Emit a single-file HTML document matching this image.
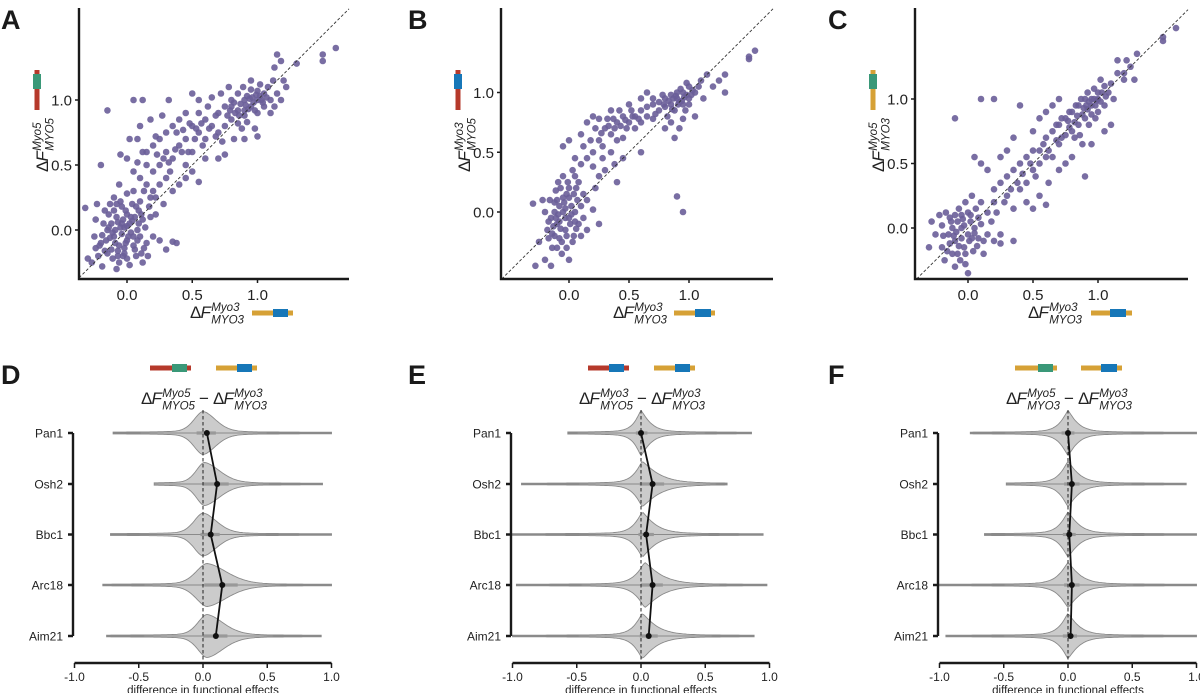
<!DOCTYPE html>
<html><head><meta charset="utf-8"><style>
html,body{margin:0;padding:0;background:#fff}
svg{display:block;font-family:"Liberation Sans",Arial,sans-serif}
</style></head><body>
<svg id="fig" width="1200" height="693" viewBox="0 0 1200 693" xmlns="http://www.w3.org/2000/svg"></svg>
<script>
// ---------- scatter data ----------
const scatterA = [[-0.2,-0.1],[-0.15,0.0],[-0.1,-0.05],[-0.05,0.02],[0,-0.08],[0.02,0.05],[-0.08,0.1],[-0.12,-0.15],[-0.03,-0.2],[0.05,-0.12],[0.08,0.0],[-0.18,0.05],[-0.22,-0.2],[-0.06,-0.25],[0.1,-0.05],[0.12,0.08],[-0.01,0.15],[-0.14,0.12],[0.04,0.2],[-0.09,-0.1],[-0.04,-0.03],[0.0,0.03],[-0.07,0.06],[-0.11,-0.02],[0.03,-0.02],[-0.16,-0.08],[-0.02,-0.14],[0.06,0.1],[-0.13,0.2],[0.09,0.15],[-0.25,-0.05],[-0.27,-0.25],[0.15,-0.1],[0.14,0.02],[-0.05,0.22],[0.0,0.28],[-0.1,0.25],[0.07,-0.2],[0.11,-0.18],[-0.19,-0.28],[-0.08,-0.3],[0.02,-0.27],[-0.3,-0.22],[-0.24,0.08],[-0.32,0.17],[0.18,0.1],[0.2,-0.05],[0.17,0.18],[0.05,0.3],[-0.06,0.35],[0.12,-0.25],[0.16,-0.2],[-0.15,-0.18],[-0.21,-0.12],[0.01,-0.05],[-0.03,0.08],[0.08,-0.08],[-0.09,0.0],[-0.12,0.05],[0.04,0.07],[-0.17,0.15],[-0.23,0.2],[0.1,0.22],[0.13,0.3],[0.22,0.25],[0.25,-0.08],[0.3,-0.15],[0.35,-0.09],[0.38,-0.1],[0.22,0.12],[-0.02,-0.18],[0.06,-0.15],[-0.07,-0.2],[0.0,0.12],[-0.04,0.18],
[-0.06,-0.12],[-0.13,-0.06],[-0.01,-0.1],[0.05,-0.05],[-0.1,0.15],[-0.19,-0.04],[-0.07,-0.16],[0.03,0.1],[-0.04,0.05],[0.09,0.05],[-0.17,-0.16],[-0.11,-0.22],[0.0,-0.22],[0.07,0.18],[-0.02,0.02],[-0.14,0.02],[-0.08,0.2],[0.13,-0.14],[-0.24,-0.14],[0.11,0.12],
[0.1,0.4],[0.15,0.35],[0.2,0.45],[0.25,0.5],[0.05,0.45],[0.0,0.55],[-0.05,0.58],[-0.2,0.5],[0.02,0.7],[0.08,0.7],[0.1,0.8],[0.15,0.6],[0.2,0.65],[0.25,0.7],[0.3,0.6],[0.3,0.75],[0.35,0.8],[0.35,0.55],[0.4,0.65],[0.4,0.85],[0.45,0.7],[0.45,0.5],[0.5,0.8],[0.5,0.6],[0.55,0.75],[0.55,0.9],[0.6,0.7],[0.6,0.85],[0.25,0.35],[0.3,0.4],[0.35,0.3],[0.4,0.35],[0.45,0.4],[0.5,0.45],[0.55,0.37],[0.2,0.3],[0.15,0.5],[0.28,0.55],[0.33,0.45],[0.38,0.75],[0.42,0.6],[0.48,0.82],[0.52,0.7],[0.58,0.65],[0.18,0.85],[0.27,0.88],[0.32,1.0],[0.05,1.0],[0.12,1.0],[-0.15,0.92],[0.22,0.72],[0.12,0.6],[0.08,0.52],[0.18,0.25],[0.28,0.2],[0.45,0.9],[0.62,0.95],[0.65,0.8],[0.6,0.55],[0.7,0.55],[0.75,0.58],[0.68,0.72],
[0.43,0.77],[0.53,0.78],[0.47,0.6],[0.57,0.82],[0.37,0.62],[0.63,0.78],[0.23,0.58],[0.32,0.52],
[0.7,0.9],[0.75,0.95],[0.8,0.85],[0.85,0.92],[0.9,1.0],[0.95,0.95],[1.0,1.0],[0.9,0.88],[0.85,1.05],[0.95,1.08],[1.0,0.9],[1.05,1.05],[1.1,1.0],[0.8,1.0],[0.75,0.8],[0.7,0.75],[0.88,0.78],[0.92,0.83],[0.98,0.78],[1.02,1.12],[1.08,1.1],[1.12,1.15],[1.15,1.05],[0.65,1.02],[0.72,1.05],[0.78,1.1],[0.82,0.7],[0.9,0.7],[1.0,0.72],[0.95,1.15],[1.05,0.95],[1.1,0.9],[0.97,0.98],[0.93,0.93],[0.87,0.97],[0.83,0.9],[0.77,0.88],[1.03,1.0],[1.07,1.02],[0.99,1.04],[0.89,1.1],[1.2,1.15],[1.22,1.1],[1.13,1.25],[1.18,1.3],[1.15,1.35],[1.3,1.28],[1.6,1.4],[1.5,1.35],[1.5,1.3],[0.5,1.05],[0.55,1.0],[0.68,0.88],[0.73,0.68],[1.13,0.95],[1.18,1.0],[0.85,0.82],[0.92,1.03],[1.0,1.07],[0.8,0.95],
[0.94,1.01],[0.98,0.92],[1.02,1.03],[0.91,0.96],[0.86,0.88],[0.96,1.02],[1.04,0.98],[0.9,0.92],[0.82,0.98],[0.79,0.92]];
const scatterB = [[-0.1,-0.1],[-0.05,0],[0,-0.05],[-0.08,0.05],[-0.12,-0.2],[-0.03,-0.15],[0.02,0.05],[-0.06,-0.25],[-0.15,-0.05],[-0.1,0.1],[0.0,0.12],[0.05,0],[-0.02,-0.3],[-0.14,-0.3],[-0.18,-0.15],[-0.2,0.0],[0.04,-0.2],[0.08,-0.1],[-0.07,0.2],[-0.01,0.25],[0.06,0.2],[-0.11,0.18],[0.1,0.05],[0.12,-0.05],[-0.16,0.1],[-0.04,0.08],[-0.09,-0.02],[0.01,-0.1],[-0.13,-0.12],[0.03,-0.25],[-0.06,-0.35],[-0.2,-0.4],[-0.28,-0.45],[-0.15,-0.45],[0.0,-0.4],[-0.25,-0.25],[-0.3,0.07],[-0.22,0.1],[0.15,-0.15],[0.2,0.02],[0.25,-0.1],[0.15,0.1],[-0.05,0.3],[0.03,0.35],[-0.02,0.15],[0.07,0.1],[-0.08,-0.08],[-0.03,-0.05],[0.05,-0.08],[-0.12,0.0],[0.1,-0.2],[0.12,0.15],[-0.17,-0.22],[0.08,0.25],[-0.1,-0.3],[0.05,0.3],
[-0.07,-0.14],[-0.11,-0.05],[-0.02,-0.2],[0.02,-0.02],[-0.05,0.12],[-0.14,-0.18],[-0.08,-0.22],[0.04,0.15],[-0.03,0.03],[-0.12,0.08],[0.0,0.2],[-0.09,0.25],[0.06,-0.14],[-0.17,-0.08],
[0.1,0.4],[0.05,0.45],[0.15,0.45],[0.2,0.5],[0.12,0.55],[0.18,0.6],[0.25,0.6],[0.3,0.7],[0.22,0.7],[0.28,0.55],[0.35,0.65],[0.32,0.78],[0.4,0.75],[0.45,0.8],[0.38,0.7],[0.5,0.75],[0.55,0.8],[0.48,0.7],[0.6,0.85],[0.42,0.85],[0.35,0.5],[0.3,0.35],[0.25,0.3],[0.2,0.38],[0.28,0.45],[-0.05,0.55],[0.0,0.6],[0.1,0.65],[0.15,0.75],[0.2,0.8],[0.55,0.7],[0.6,0.75],[0.65,0.8],[0.5,0.9],[0.45,0.62],[0.52,0.85],[0.7,0.78],[0.4,0.6],[0.35,0.85],[0.25,0.78],[0.22,0.2],[0.4,0.25],[0.45,0.45],[0.38,0.4],[0.6,0.5],
[0.33,0.72],[0.43,0.72],[0.47,0.77],[0.53,0.8],[0.58,0.78],[0.27,0.66],[0.37,0.78],
[0.7,0.9],[0.75,0.85],[0.8,0.95],[0.85,0.9],[0.9,0.95],[0.95,1.0],[1.0,1.05],[0.9,1.0],[0.85,0.98],[0.8,0.88],[0.75,0.92],[0.72,0.82],[0.95,0.9],[1.0,0.95],[1.05,1.0],[0.98,1.08],[0.88,0.85],[0.82,0.8],[0.92,0.92],[0.96,0.96],[1.02,0.98],[1.08,1.05],[1.1,1.1],[1.15,1.15],[0.65,0.88],[0.7,0.95],[0.78,0.98],[0.85,0.75],[0.92,0.7],[0.95,0.78],[0.8,0.7],[0.88,0.62],[0.6,0.95],[0.65,1.0],[1.12,0.95],[1.25,1.1],[1.3,1.15],[1.2,1.05],[1.3,1.0],[1.5,1.28],[1.5,1.3],[1.55,1.35],[0.9,0.13],[0.95,0.0],[1.05,0.8],[0.97,0.85],[1.0,0.9],[0.83,0.93],[0.93,1.03],[0.87,0.95],
[0.91,0.9],[0.94,0.93],[0.98,0.98],[0.86,0.86],[0.79,0.9],[1.03,1.02],[0.89,0.97]];
const scatterC = [[-0.1,-0.1],[-0.05,0],[0,-0.05],[-0.08,0.05],[-0.12,-0.2],[-0.03,-0.15],[0.02,0.05],[-0.06,-0.25],[-0.15,-0.05],[-0.1,0.1],[0.0,0.12],[0.05,0],[-0.02,-0.28],[-0.2,-0.15],[-0.25,-0.05],[0.04,-0.18],[0.08,-0.08],[-0.07,0.15],[0.06,0.15],[-0.13,0.05],[0.1,0.03],[0.12,-0.1],[-0.17,0.12],[-0.04,0.07],[-0.09,-0.03],[0.01,-0.1],[-0.14,-0.12],[-0.3,-0.15],[-0.28,0.05],[-0.22,0.1],[0.15,-0.05],[0.18,0.05],[0.15,0.12],[-0.02,0.2],[0.03,0.25],[-0.1,-0.3],[0.0,-0.35],[-0.18,-0.25],[0.2,-0.1],[0.25,-0.05],[0.1,0.2],[-0.05,-0.08],[0.05,-0.04],[-0.12,0.0],[0.08,0.08],[-0.2,0.02],[0.12,-0.2],[0.2,0.2],
[-0.07,-0.14],[-0.11,-0.06],[-0.02,-0.2],[0.03,-0.08],[-0.05,0.1],[-0.16,-0.18],[-0.08,-0.2],[0.02,0.1],[-0.03,0.02],[-0.14,0.08],[0.07,-0.14],[-0.19,-0.06],
[0.2,0.3],[0.22,0.12],[0.25,0.35],[0.28,0.2],[0.3,0.4],[0.3,0.25],[0.33,0.3],[0.35,0.45],[0.35,0.15],[0.38,0.35],[0.4,0.5],[0.4,0.3],[0.42,0.42],[0.45,0.55],[0.45,0.35],[0.48,0.5],[0.5,0.6],[0.5,0.45],[0.52,0.4],[0.55,0.6],[0.55,0.5],[0.58,0.65],[0.6,0.55],[0.6,0.7],[0.62,0.6],[0.65,0.75],[0.65,0.55],[0.68,0.68],[0.7,0.8],[0.7,0.65],[0.72,0.7],[0.75,0.85],[0.75,0.72],[0.78,0.78],[0.8,0.9],[0.8,0.75],[0.82,0.82],[0.85,0.95],[0.85,0.8],[0.88,0.88],[0.9,1.0],[0.9,0.85],[0.92,0.92],[0.95,1.0],[0.95,0.88],[0.98,0.95],[1.0,1.05],[1.0,0.9],[1.02,0.98],[1.05,1.1],[1.05,0.95],[1.08,1.05],[1.1,1.12],[1.12,1.0],[1.15,1.2],[0.25,0.55],[0.15,0.45],[0.1,0.5],[0.05,0.55],[0.3,0.6],[0.35,0.7],[0.5,0.75],[0.55,0.85],[0.6,0.9],[0.65,0.95],[0.7,1.0],[0.1,1.0],[0.2,1.0],[-0.1,0.85],[0.4,0.95],[0.45,0.2],[0.55,0.25],[0.62,0.35],[0.7,0.45],[0.75,0.5],[0.8,0.55],[0.88,0.65],[0.95,0.65],[0.9,0.4],[1.05,0.75],[1.1,0.8],[0.6,0.18],[0.5,0.15],[0.35,-0.1],[0.25,-0.12],[1.2,1.2],[1.22,1.3],[1.15,1.3],[1.3,1.35],[1.5,1.48],[1.5,1.45],[1.6,1.55],[1.2,1.15],[1.25,1.25],[1.28,1.15],[1.02,1.15],[0.97,1.08],[0.92,1.05],[0.87,1.0],[0.83,0.95],[0.78,0.9],[0.72,0.85],[0.68,0.8],[0.93,0.8],[0.98,0.85],[0.86,0.72],[0.82,0.7],[1.0,1.0],[0.95,0.95],[1.03,1.05],
[0.91,0.95],[0.97,1.0],[0.89,0.93],[0.84,0.87],[0.77,0.83],[1.06,1.02],[0.99,0.99],[0.93,0.98]];
const scatterTicks = [0.0, 0.5, 1.0];
const scatterTickLabels = ["0.0", "0.5", "1.0"];

// ---------- violin data ----------
const genes = ["Pan1", "Osh2", "Bbc1", "Arc18", "Aim21"];
const violinTicks = [-1.0, -0.5, 0.0, 0.5, 1.0];
const violinTickLabels = ["-1.0", "-0.5", "0.0", "0.5", "1.0"];
const meansD = [0.03, 0.11, 0.06, 0.15, 0.10];
const meansE = [0.0, 0.09, 0.04, 0.09, 0.06];
const meansF = [0.0, 0.03, 0.01, 0.03, 0.02];
const modesD = [0.0, 0.01, 0.0, 0.03, 0.03];
const modesE = [0.0, 0.01, 0.01, 0.03, 0.01];
const modesF = [0.0, 0.0, 0.0, 0.0, 0.0];
const spreadLD = [0.1, 0.09, 0.1, 0.12, 0.1];
const spreadRD = [0.14, 0.17, 0.15, 0.22, 0.18];
const spreadLE = [0.06, 0.07, 0.07, 0.08, 0.07];
const spreadRE = [0.08, 0.14, 0.11, 0.14, 0.12];
const spreadLF = [0.07, 0.07, 0.07, 0.08, 0.07];
const spreadRF = [0.08, 0.09, 0.09, 0.1, 0.09];
const minsD = [-0.7, -0.38, -0.72, -0.78, -0.75];
const maxsD = [1.0, 0.93, 1.0, 1.0, 0.92];
const minsE = [-0.57, -0.93, -1.0, -0.97, -1.0];
const maxsE = [0.86, 0.67, 0.95, 0.98, 0.88];
const minsF = [-0.76, -0.48, -0.65, -1.0, -0.95];
const maxsF = [1.0, 0.92, 1.0, 1.0, 1.0];
const q1D = [-0.05, 0.0, -0.02, 0.01, 0.0];
const q3D = [0.1, 0.2, 0.13, 0.27, 0.19];
const q1E = [-0.04, -0.01, -0.02, 0.0, -0.01];
const q3E = [0.05, 0.18, 0.1, 0.17, 0.13];
const q1F = [-0.05, -0.03, -0.04, -0.03, -0.04];
const q3F = [0.05, 0.09, 0.06, 0.09, 0.07];

const svg = document.getElementById('fig');
const NS = 'http://www.w3.org/2000/svg';
function mk(tag, attrs, parent) {
  const e = document.createElementNS(NS, tag);
  for (const k in attrs) e.setAttribute(k, attrs[k]);
  (parent || svg).appendChild(e);
  return e;
}
function txt(x, y, s, size, parent, extra) {
  const t = mk('text', Object.assign({x: x, y: y, 'font-size': size, fill: '#222'}, extra || {}), parent);
  t.textContent = s;
  return t;
}
function dfLabel(parent, x, y, sup, sub, size) {
  const g = mk('g', {}, parent);
  txt(x, y, 'Δ', size, g);
  txt(x + size * 0.62, y, 'F', size, g, {'font-style': 'italic'});
  txt(x + size * 1.25, y - size * 0.42, sup, size * 0.68, g, {'font-style': 'italic'});
  txt(x + size * 1.25, y + size * 0.32, sub, size * 0.68, g, {'font-style': 'italic'});
  return g;
}
const COL = {red: '#b5392b', green: '#3a9878', gold: '#d6a136', blue: '#1777b8'};
function hBar(parent, x0, x1, y, c1, b0, b1, c2) {
  mk('rect', {x: x0, y: y - 2.5, width: x1 - x0, height: 5, fill: COL[c1]}, parent);
  mk('rect', {x: b0, y: y - 4, width: b1 - b0, height: 8, fill: COL[c2]}, parent);
}
function vBar(parent, x, y0, y1, c1, b0, b1, c2) {
  mk('rect', {x: x - 2.5, y: y0, width: 5, height: y1 - y0, fill: COL[c1]}, parent);
  mk('rect', {x: x - 4, y: b0, width: 8, height: b1 - b0, fill: COL[c2]}, parent);
}
function letter(x, y, s) {
  const t = txt(x, y, s, 27, svg, {'font-weight': 'bold', fill: '#1a1a1a'});
  
  
}

// ---------- scatter panels ----------
const scatterPanels = [
  {id: 'a', pts: scatterA, x0: 127, sx: 130.5, y0: 230, sy: 130, L: 79, R: 349, T: 8, B: 279,
   ylab: ['Myo5', 'MYO5'], vbar: [37, 'red', 'green'], hbar: [252, 293, 273, 288], ylx: 43, xlx: 190},
  {id: 'b', pts: scatterB, x0: 569, sx: 120, y0: 212, sy: 119.5, L: 501, R: 773, T: 8, B: 279,
   ylab: ['Myo3', 'MYO5'], vbar: [458, 'red', 'blue'], hbar: [674, 715, 695, 711], ylx: 465, xlx: 613},
  {id: 'c', pts: scatterC, x0: 968, sx: 130, y0: 228, sy: 129, L: 915, R: 1188, T: 8, B: 279,
   ylab: ['Myo5', 'MYO3'], vbar: [873, 'gold', 'green'], hbar: [1091, 1132, 1110, 1126], ylx: 879, xlx: 1028}
];
scatterPanels.forEach(p => {
  const g = mk('g', {});
  
  
  const X = v => p.x0 + p.sx * v, Y = v => p.y0 - p.sy * v;
  const lo = Math.max((p.L - p.x0) / p.sx, (p.y0 - p.B) / p.sy);
  const hi = Math.min((p.R - p.x0) / p.sx, (p.y0 - p.T) / p.sy);
  const pg = mk('g', {}, g);
  
  
  p.pts.forEach(d => {
    const c = mk('circle', {cx: X(d[0]), cy: Y(d[1]), r: 3.3, fill: '#6a5e99', 'fill-opacity': 0.9}, pg);
    
    
  });
  const dl = mk('line', {x1: X(lo), y1: Y(lo), x2: X(hi), y2: Y(hi), stroke: '#333', 'stroke-width': 0.9, 'stroke-dasharray': '3,2'}, g);
  
  
  const ax = mk('path', {d: `M${p.L},${p.T} V${p.B} H${p.R}`, fill: 'none', stroke: '#1a1a1a', 'stroke-width': 2.4}, g);
  
  
  scatterTicks.forEach((v, i) => {
    mk('line', {x1: X(v), y1: p.B, x2: X(v), y2: p.B + 4, stroke: '#1a1a1a', 'stroke-width': 1.5}, g);
    const tx = txt(X(v), p.B + 21, scatterTickLabels[i], 15, g, {'text-anchor': 'middle'});
    
    
    mk('line', {x1: p.L - 4, y1: Y(v), x2: p.L, y2: Y(v), stroke: '#1a1a1a', 'stroke-width': 1.5}, g);
    const ty = txt(p.L - 7, Y(v) + 5.5, scatterTickLabels[i], 15, g, {'text-anchor': 'end'});
    
    
  });
  const xl = dfLabel(g, p.xlx, 318, 'Myo3', 'MYO3', 17);
  
  
  const ylg = mk('g', {transform: `translate(${p.ylx},0) rotate(-90)`}, g);
  const yl = dfLabel(ylg, -172, 5, p.ylab[0], p.ylab[1], 17);
  
  
  const ic1 = mk('g', {}, g);
  
  
  vBar(ic1, p.vbar[0], 70, 110, p.vbar[1], 74, 89, p.vbar[2]);
  const ic2 = mk('g', {}, g);
  
  
  hBar(ic2, p.hbar[0], p.hbar[1], 313, 'gold', p.hbar[2], p.hbar[3], 'blue');
});

// ---------- violin panels ----------
const rowsY = [433, 484, 534.5, 585, 636];
const violinPanels = [
  {id: 'd', x0: 203, means: meansD, modes: modesD, sL: spreadLD, sR: spreadRD, mins: minsD, maxs: maxsD, q1: q1D, q3: q3D, pw: 1.8, H: 19,
   sup: ['Myo5', 'Myo3'], sub: ['MYO5', 'MYO3'], bars: [[150, 191, 'red', 172, 187, 'green'], [216, 257, 'gold', 237, 252, 'blue']]},
  {id: 'e', x0: 641, means: meansE, modes: modesE, sL: spreadLE, sR: spreadRE, mins: minsE, maxs: maxsE, q1: q1E, q3: q3E, pw: 1.2, H: 20,
   sup: ['Myo3', 'Myo3'], sub: ['MYO5', 'MYO3'], bars: [[588, 629, 'red', 609, 624, 'blue'], [654, 695, 'gold', 675, 690, 'blue']]},
  {id: 'f', x0: 1068, means: meansF, modes: modesF, sL: spreadLF, sR: spreadRF, mins: minsF, maxs: maxsF, q1: q1F, q3: q3F, pw: 1.2, H: 20,
   sup: ['Myo5', 'Myo3'], sub: ['MYO3', 'MYO3'], bars: [[1015, 1057, 'gold', 1038, 1053, 'green'], [1081, 1122, 'gold', 1101, 1117, 'blue']]}
];
violinPanels.forEach(p => {
  const g = mk('g', {});
  
  
  const sx = 128.5;
  const X = v => p.x0 + sx * v;
  p.bars.forEach(b => {
    const ic = mk('g', {}, g);
    
    
    hBar(ic, b[0], b[1], 368, b[2], b[3], b[4], b[5]);
  });
  const tg = mk('g', {}, g);
  
  
  dfLabel(tg, X(0) - 62, 404, p.sup[0], p.sub[0], 17);
  txt(X(0) - 4, 404, '−', 17, tg);
  dfLabel(tg, X(0) + 10, 404, p.sup[1], p.sub[1], 17);
  genes.forEach((name, i) => {
    const y = rowsY[i];
    const vg = mk('g', {}, g);
    
    
    const top = [], bot = [];
    const n = 140;
    for (let k = 0; k <= n; k++) {
      const v = p.mins[i] + (p.maxs[i] - p.mins[i]) * k / n;
      const d = v - p.modes[i];
      const s = d < 0 ? p.sL[i] : p.sR[i];
      const h = p.H * Math.exp(-Math.pow(Math.abs(d) / s, p.pw)) + 0.7 + 1.8 * Math.exp(-Math.abs(d) / 0.3);
      top.push(`${X(v).toFixed(1)},${(y - h).toFixed(1)}`);
      bot.unshift(`${X(v).toFixed(1)},${(y + h).toFixed(1)}`);
    }
    mk('polygon', {points: top.concat(bot).join(' '), fill: '#cbcbcb', stroke: '#8a8a8a', 'stroke-width': 0.9}, vg);
    mk('line', {x1: X(p.mins[i]), y1: y, x2: X(p.maxs[i]), y2: y, stroke: '#8a8a8a', 'stroke-width': 1}, vg);
    mk('line', {x1: X(p.q1[i]), y1: y, x2: X(p.q3[i]), y2: y, stroke: '#999', 'stroke-width': 3.2}, vg);
    const lb = txt(p.x0 - 140, y + 4.5, name, 12, g, {'text-anchor': 'end'});
    
    
  });
  const zl = mk('line', {x1: X(0), y1: 410, x2: X(0), y2: 662, stroke: '#222', 'stroke-width': 1, 'stroke-dasharray': '3.5,2.5'}, g);
  
  
  const pts = p.means.map((m, i) => `${X(m).toFixed(1)},${rowsY[i]}`).join(' ');
  const ml = mk('polyline', {points: pts, fill: 'none', stroke: '#111', 'stroke-width': 1.8}, g);
  
  
  p.means.forEach((m, i) => {
    const c = mk('circle', {cx: X(m), cy: rowsY[i], r: 3, fill: '#111'}, g);
    
    
  });
  const bx = p.x0 - 130;
  let d = `M${bx},${rowsY[0]} V${rowsY[4]}`;
  rowsY.forEach(y => { d += ` M${bx - 5},${y} H${bx}`; });
  const br = mk('path', {d: d, stroke: '#1a1a1a', 'stroke-width': 2.4, fill: 'none'}, g);
  
  
  const xa = mk('line', {x1: X(-1), y1: 663, x2: X(1), y2: 663, stroke: '#1a1a1a', 'stroke-width': 2.4}, g);
  
  
  violinTicks.forEach((v, i) => {
    mk('line', {x1: X(v), y1: 663, x2: X(v), y2: 668, stroke: '#1a1a1a', 'stroke-width': 1.5}, g);
    const t = txt(X(v), 681, violinTickLabels[i], 12, g, {'text-anchor': 'middle'});
    
    
  });
  const xt = txt(X(0), 694, 'difference in functional effects', 11.5, g, {'text-anchor': 'middle'});
  
  
});

letter(1, 29, 'A'); letter(408, 29, 'B'); letter(828, 29, 'C');
letter(1, 384, 'D'); letter(408, 384, 'E'); letter(828, 384, 'F');
</script>
</body></html>
